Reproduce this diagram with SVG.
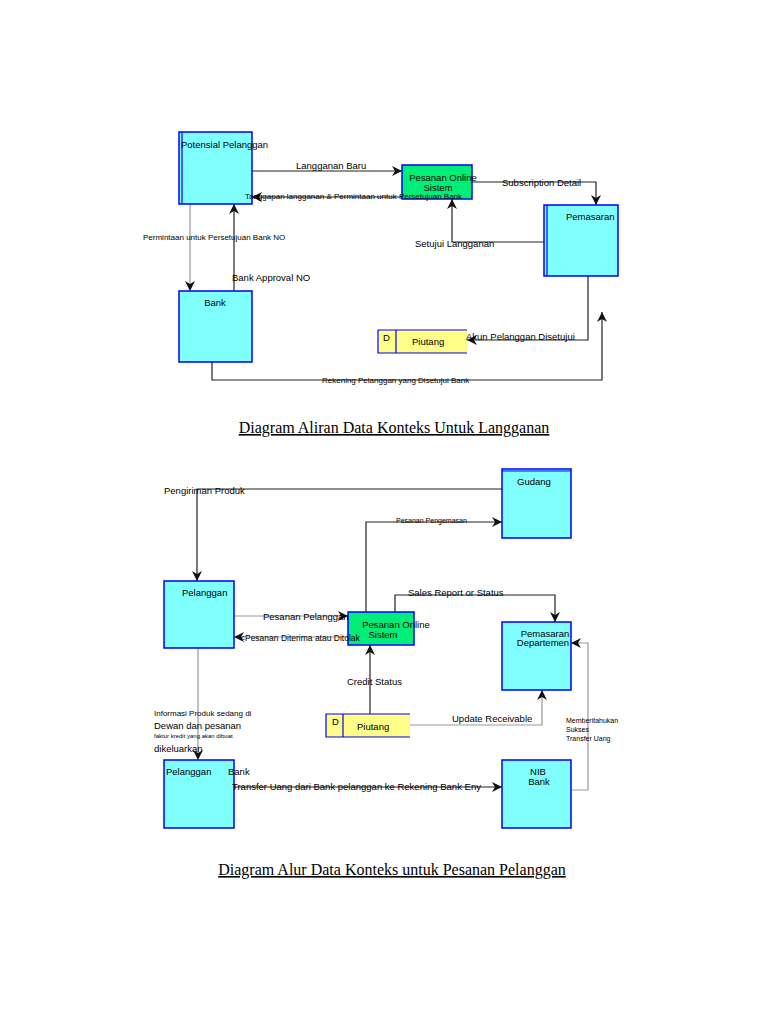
<svg xmlns="http://www.w3.org/2000/svg" width="768" height="1024" viewBox="0 0 768 1024">
<style>
.n{fill:#80ffff;stroke:#0000ff;stroke-width:1.5}
.p{fill:#00ee77;stroke:#0000ff;stroke-width:1.5}
.s{fill:#ffff88;stroke:#0000ff;stroke-width:1.2}
.d{stroke:#0000ff;stroke-width:1.2}
.t{font-family:"Liberation Sans",Arial,sans-serif;font-size:9.5px;fill:#000}
.sm{font-family:"Liberation Sans",Arial,sans-serif;font-size:7px;fill:#000}
.ti{font-family:"Liberation Serif","Times New Roman",serif;font-size:16px;fill:#000;text-decoration:underline}
.c{fill:none;stroke:#222;stroke-width:1.2}
.g{fill:none;stroke:#999;stroke-width:1.2}
</style>
<defs>
<marker id="a" viewBox="0 0 10 10" refX="10" refY="5" markerWidth="10" markerHeight="10" markerUnits="userSpaceOnUse" orient="auto"><path d="M0,0 L10,5 L0,10 L3,5 z" fill="#111"/></marker>
</defs>
<rect width="768" height="1024" fill="#fff"/>
<g id="connectors">
<path class="c" d="M252,171 H402" marker-end="url(#a)"/>
<path class="c" d="M402,197 H252" marker-end="url(#a)"/>
<path class="c" d="M472,182 H596 V205" marker-end="url(#a)"/>
<path class="c" d="M544,242 H452 V199" marker-end="url(#a)"/>
<path class="g" d="M190,204 V291" marker-end="url(#a)"/>
<path class="c" d="M234,291 V204" marker-end="url(#a)"/>
<path class="c" d="M588,276 V340 H467" marker-end="url(#a)"/>
<path class="c" d="M212,362 V380 H602 V312" marker-end="url(#a)"/>
<path class="c" d="M502,489 H197 V581" marker-end="url(#a)"/>
<path class="c" d="M366,612 V522 H502" marker-end="url(#a)"/>
<path class="c" d="M395,612 V595 H555 V622" marker-end="url(#a)"/>
<path class="g" d="M234,616 H348" marker-end="url(#a)"/>
<path class="g" d="M348,637 H234" marker-end="url(#a)"/>
<path class="c" d="M370,714 V645" marker-end="url(#a)"/>
<path class="g" d="M410,725 H542 V690" marker-end="url(#a)"/>
<path class="g" d="M198,648 V760" marker-end="url(#a)"/>
<path class="c" d="M234,787 H502" marker-end="url(#a)"/>
<path class="g" d="M571,790 H588 V643 H571" marker-end="url(#a)"/>
</g>
<g id="potensial"><rect class="n" x="179" y="132" width="73" height="72"/><line class="d" x1="182" y1="132" x2="182" y2="204"/><text class="t" x="181" y="148">Potensial Pelanggan</text></g>
<g id="pos1"><rect class="p" x="402" y="165" width="70" height="34"/><text class="t" x="443" y="181" text-anchor="middle">Pesanan Online</text><text class="t" x="438" y="191" text-anchor="middle">Sistem</text></g>
<g id="pemasaran"><rect class="n" x="544" y="205" width="74" height="71"/><line class="d" x1="547" y1="205" x2="547" y2="276"/><text class="t" x="566" y="220">Pemasaran</text></g>
<g id="bank"><rect class="n" x="179" y="291" width="73" height="71"/><text class="t" x="215" y="306" text-anchor="middle">Bank</text></g>
<g id="piutang1"><path class="s" d="M467,330 H378 V353 H467"/><line class="d" x1="396" y1="330" x2="396" y2="353"/><text class="t" x="383" y="341">D</text><text class="t" x="412" y="345">Piutang</text></g>
<g id="labels1">
<text class="t" x="296" y="169">Langganan Baru</text>
<text class="sm" x="245" y="199" style="font-size:8px">Tanggapan langganan &amp; Permintaan untuk Persetujuan Bank</text>
<text class="t" x="502" y="186">Subscription Detail</text>
<text class="t" x="415" y="247">Setujui Langganan</text>
<text class="sm" x="143" y="240" style="font-size:8px">Permintaan untuk Persetujuan Bank NO</text>
<text class="t" x="232" y="281">Bank Approval NO</text>
<text class="t" x="466" y="340">Akun Pelanggan Disetujui</text>
<text class="sm" x="322" y="383" style="font-size:8px">Rekening Pelanggan yang Disetujui Bank</text>
<text class="ti" x="394" y="433" text-anchor="middle">Diagram Aliran Data Konteks Untuk Langganan</text>
</g>
<g id="gudang"><rect class="n" x="502" y="469" width="69" height="69"/><line class="d" x1="502" y1="471" x2="571" y2="471"/><text class="t" x="534" y="485" text-anchor="middle">Gudang</text></g>
<g id="pelanggan"><rect class="n" x="164" y="581" width="70" height="67"/><text class="t" x="182" y="596">Pelanggan</text></g>
<g id="pos2"><rect class="p" x="348" y="612" width="66" height="33"/><text class="t" x="396" y="628" text-anchor="middle">Pesanan Online</text><text class="t" x="383" y="638" text-anchor="middle">Sistem</text></g>
<g id="pemdep"><rect class="n" x="502" y="622" width="69" height="68"/><text class="t" x="545" y="637" text-anchor="middle">Pemasaran</text><text class="t" x="543" y="646" text-anchor="middle">Departemen</text></g>
<g id="piutang2"><path class="s" d="M410,714 H326 V737 H410"/><line class="d" x1="343" y1="714" x2="343" y2="737"/><text class="t" x="332" y="725">D</text><text class="t" x="357" y="730">Piutang</text></g>
<g id="pelbank"><rect class="n" x="164" y="760" width="70" height="68"/><text class="t" x="166" y="775">Pelanggan</text><text class="t" x="228" y="775">Bank</text></g>
<g id="nib"><rect class="n" x="502" y="760" width="69" height="68"/><text class="t" x="538" y="775" text-anchor="middle">NIB</text><text class="t" x="539" y="785" text-anchor="middle">Bank</text></g>
<g id="labels2">
<text class="t" x="164" y="494">Pengiriman Produk</text>
<text class="sm" x="396" y="523">Pesanan Pengemasan</text>
<text class="t" x="408" y="596">Sales Report or Status</text>
<text class="t" x="263" y="620">Pesanan Pelanggan</text>
<text class="t" x="240" y="641" style="font-size:8.5px">&lt;Pesanan Diterima atau Ditolak</text>
<text class="t" x="347" y="685">Credit Status</text>
<text class="t" x="452" y="722">Update Receivable</text>
<text class="sm" x="154" y="716" style="font-size:8px">Informasi Produk sedang di</text>
<text class="t" x="154" y="729">Dewan dan pesanan</text>
<text class="sm" x="154" y="738" style="font-size:6px">faktur kredit yang akan dibuat</text>
<text class="t" x="154" y="752">dikeluarkan</text>
<text class="t" x="232" y="790">Transfer Uang dari Bank pelanggan ke Rekening Bank Eny</text>
<text class="sm" x="566" y="723">Memberitahukan</text>
<text class="sm" x="566" y="732">Sukses</text>
<text class="sm" x="566" y="741">Transfer Uang</text>
<text class="ti" x="392" y="875" text-anchor="middle">Diagram Alur Data Konteks untuk Pesanan Pelanggan</text>
</g>
</svg>
